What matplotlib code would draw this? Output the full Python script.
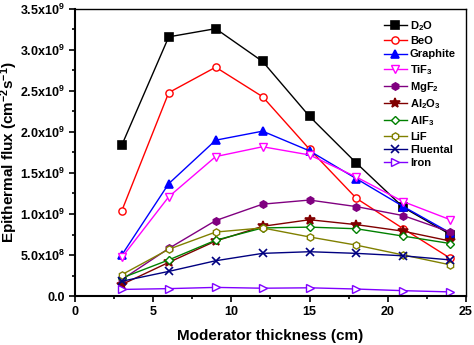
import matplotlib
matplotlib.use("Agg")
import matplotlib.pyplot as plt
from matplotlib.ticker import FuncFormatter, MultipleLocator

plt.rcParams['font.family'] = ['Liberation Sans', 'DejaVu Sans']
plt.rcParams['font.weight'] = 'bold'
plt.rcParams['mathtext.fontset'] = 'custom'
plt.rcParams['mathtext.rm'] = 'Liberation Sans:bold'
plt.rcParams['mathtext.it'] = 'Liberation Sans:bold'
plt.rcParams['mathtext.bf'] = 'Liberation Sans:bold'
plt.rcParams['mathtext.default'] = 'rm'

# moderator thickness (cm)
thickness = [3, 6, 9, 12, 15, 18, 21, 24]

# epithermal flux in units of 1e9 cm^-2 s^-1
d2o = [1.84, 3.16, 3.26, 2.86, 2.19, 1.62, 1.08, 0.75]
beo = [1.04, 2.48, 2.79, 2.43, 1.79, 1.19, 0.82, 0.46]
graphite = [0.50, 1.37, 1.90, 2.01, 1.77, 1.43, 1.09, 0.77]
tif3 = [0.47, 1.21, 1.70, 1.82, 1.72, 1.45, 1.15, 0.93]
mgf2 = [0.20, 0.58, 0.92, 1.12, 1.17, 1.09, 0.98, 0.78]
al2o3 = [0.14, 0.41, 0.67, 0.85, 0.93, 0.87, 0.79, 0.67]
alf3 = [0.22, 0.44, 0.68, 0.83, 0.84, 0.82, 0.73, 0.64]
lif = [0.26, 0.57, 0.78, 0.83, 0.72, 0.62, 0.50, 0.38]
fluental = [0.18, 0.30, 0.43, 0.52, 0.54, 0.52, 0.49, 0.44]
iron = [0.08, 0.09, 0.105, 0.095, 0.10, 0.085, 0.065, 0.05]

series = [
    ("D$_2$O", d2o, "black", "s", True),
    ("BeO", beo, "#ff0000", "o", False),
    ("Graphite", graphite, "#0000ff", "^", True),
    ("TiF$_3$", tif3, "#ff00ff", "v", False),
    ("MgF$_2$", mgf2, "#800080", "h", True),
    ("Al$_2$O$_3$", al2o3, "#800000", "*", True),
    ("AlF$_3$", alf3, "#008000", "D", False),
    ("LiF", lif, "#808000", "h", False),
    ("Fluental", fluental, "#000080", "x", True),
    ("Iron", iron, "#8000ff", ">", False),
]

fig = plt.figure(figsize=(4.74, 3.45), dpi=100)
ax = fig.add_axes([0.158, 0.142, 0.825, 0.832])

for name, vals, col, mk, filled in series:
    y = [v * 1e9 for v in vals]
    size = 5.2
    if mk == "*":
        size = 7
    elif mk == "D":
        size = 4.5
    elif mk == "x":
        size = 6
    ax.plot(thickness, y, color=col, marker=mk, markersize=size, lw=1.0,
            markerfacecolor=col if filled else "white",
            markeredgecolor=col, markeredgewidth=1.0 if not filled else 1.2,
            label=name)

ax.set_xlim(0, 25)
ax.set_ylim(0, 3.5e9)
ax.xaxis.set_major_locator(MultipleLocator(5))
ax.xaxis.set_minor_locator(MultipleLocator(2.5))
ax.yaxis.set_major_locator(MultipleLocator(0.5e9))
ax.yaxis.set_minor_locator(MultipleLocator(0.25e9))


def flux_label(v, pos):
    if v == 0:
        return "0.0"
    m = v / 1e9
    if m >= 1:
        return f"{m:.1f}x10$^{{9}}$"
    return f"{m * 10:.1f}x10$^{{8}}$"


ax.yaxis.set_major_formatter(FuncFormatter(flux_label))
ax.tick_params(which="both", direction="out", top=False, right=False,
               labelsize=9, width=1.2, pad=2.5)
ax.tick_params(which="major", length=4.5)
ax.tick_params(which="minor", length=2.5)
for side in ["left", "bottom"]:
    ax.spines[side].set_linewidth(1.5)
for side in ["top", "right"]:
    ax.spines[side].set_linewidth(1.0)

ax.set_xlabel("Moderator thickness (cm)", fontsize=11, fontweight="bold",
              labelpad=8)
ax.set_ylabel("Epithermal flux (cm$^{-2}$s$^{-1}$)", fontsize=11,
              fontweight="bold")
ax.yaxis.set_label_coords(-0.14, 0.5)

ax.legend(loc="upper right", frameon=False, fontsize=8, handlelength=2.0,
          handletextpad=0.3, labelspacing=0.3, borderaxespad=0.5)

fig.savefig("out.png", dpi=100)
